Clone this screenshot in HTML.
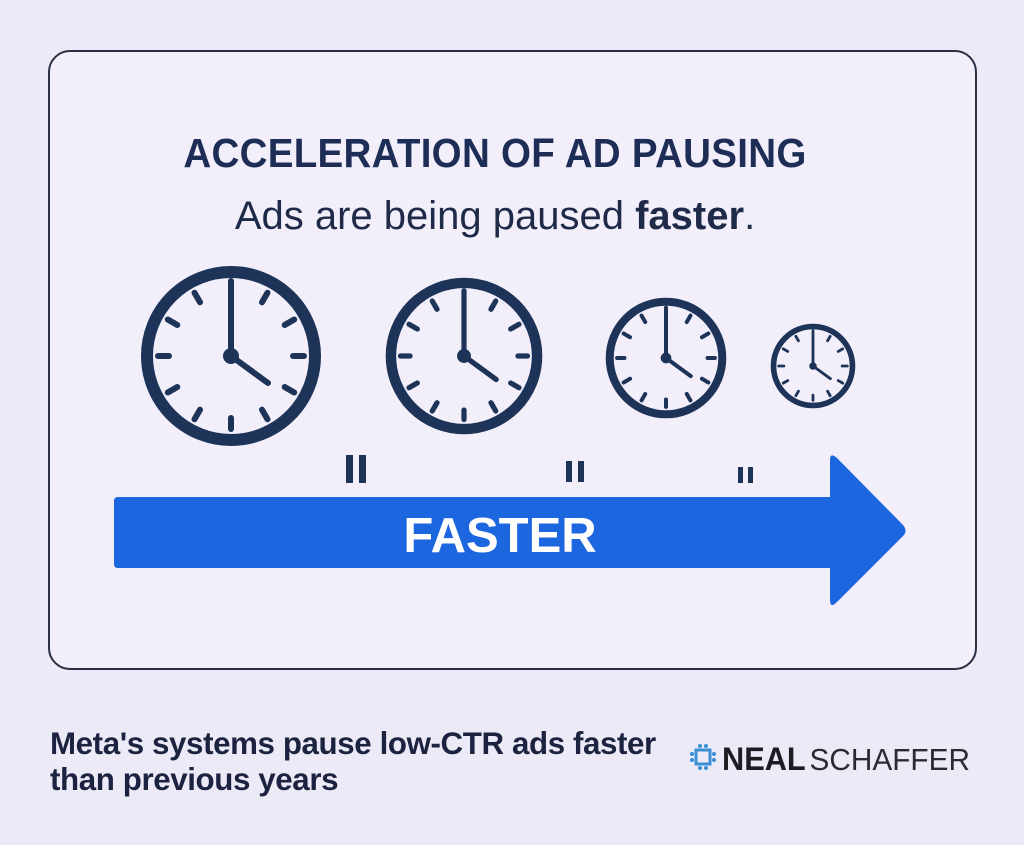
<!DOCTYPE html>
<html><head><style>
body{margin:0;width:1024px;height:845px;background:#edeaf7;font-family:"Liberation Sans",sans-serif;position:relative;overflow:hidden}
.card{position:absolute;left:48px;top:50px;width:925px;height:616px;border:2px solid #2a2f45;border-radius:22px;background:#f2effb}
.t{position:absolute;left:0;width:990px;text-align:center;color:#1d2d55}
.foot{position:absolute;left:50px;top:726px;font-size:31.3px;font-weight:bold;color:#1b2340;line-height:36px;letter-spacing:-0.4px}
</style></head><body>
<div class="card"></div>
<div class="t" style="top:130px;font-size:41px;font-weight:bold;letter-spacing:0.3px;transform:scaleX(0.94)">ACCELERATION OF AD PAUSING</div>
<div class="t" style="top:194px;font-size:40px;color:#1e2a48">Ads are being paused <b>faster</b>.</div>
<svg width="1024" height="845" style="position:absolute;left:0;top:0">
<defs>
<g id="clk" stroke="#1d3358" fill="none" stroke-linecap="round">
<circle r="84" stroke-width="12"/>
<g stroke-width="6">
<line x1="0" y1="-75" x2="0" y2="0"/>
<line x1="0" y1="0" x2="37" y2="27"/>
<line x1="0" y1="-62" x2="0" y2="-73" transform="rotate(30)"/>
<line x1="0" y1="-62" x2="0" y2="-73" transform="rotate(60)"/>
<line x1="0" y1="-62" x2="0" y2="-73" transform="rotate(90)"/>
<line x1="0" y1="-62" x2="0" y2="-73" transform="rotate(120)"/>
<line x1="0" y1="-62" x2="0" y2="-73" transform="rotate(150)"/>
<line x1="0" y1="-62" x2="0" y2="-73" transform="rotate(180)"/>
<line x1="0" y1="-62" x2="0" y2="-73" transform="rotate(210)"/>
<line x1="0" y1="-62" x2="0" y2="-73" transform="rotate(240)"/>
<line x1="0" y1="-62" x2="0" y2="-73" transform="rotate(270)"/>
<line x1="0" y1="-62" x2="0" y2="-73" transform="rotate(300)"/>
<line x1="0" y1="-62" x2="0" y2="-73" transform="rotate(330)"/>
</g>
<circle r="8" fill="#1d3358" stroke="none"/>
</g>
</defs>
<use href="#clk" transform="translate(231,356)"/>
<use href="#clk" transform="translate(464,356) scale(0.87)"/>
<use href="#clk" transform="translate(666,358) scale(0.67)"/>
<use href="#clk" transform="translate(813,366) scale(0.47)"/>
<g fill="#1d3358">
<rect x="346" y="455" width="7" height="28"/><rect x="359" y="455" width="7" height="28"/>
<rect x="566" y="461" width="6" height="21"/><rect x="578" y="461" width="6" height="21"/>
<rect x="738" y="467" width="5" height="16"/><rect x="748" y="467" width="5" height="16"/>
</g>
<path d="M118 497 L830 497 L830 460 Q830 452 837 458 L903 525 Q908 531 903 536 L837 602 Q830 609 830 600 L830 568 L118 568 Q114 568 114 564 L114 501 Q114 497 118 497Z" fill="#1c66df"/>
<text x="500" y="552" text-anchor="middle" font-family="Liberation Sans" font-weight="bold" font-size="49" fill="#fff">FASTER</text>
<g fill="#3b8fd6">
<rect x="696" y="750" width="14" height="14" fill="none" stroke="#3b8fd6" stroke-width="3"/>
<circle cx="700" cy="746" r="2"/><circle cx="706" cy="746" r="2"/><circle cx="700" cy="768" r="2"/><circle cx="706" cy="768" r="2"/>
<circle cx="692" cy="754" r="2"/><circle cx="692" cy="760" r="2"/><circle cx="714" cy="754" r="2"/><circle cx="714" cy="760" r="2"/>
</g>
<text x="722" y="770" font-family="Liberation Sans" font-size="32" fill="#1c1c22" textLength="248" lengthAdjust="spacingAndGlyphs"><tspan font-weight="bold">NEAL</tspan><tspan dx="4" font-size="31" fill="#2a2a30">SCHAFFER</tspan></text>
</svg>
<div class="foot">Meta's systems pause low-CTR ads faster<br>than previous years</div>
</body></html>
